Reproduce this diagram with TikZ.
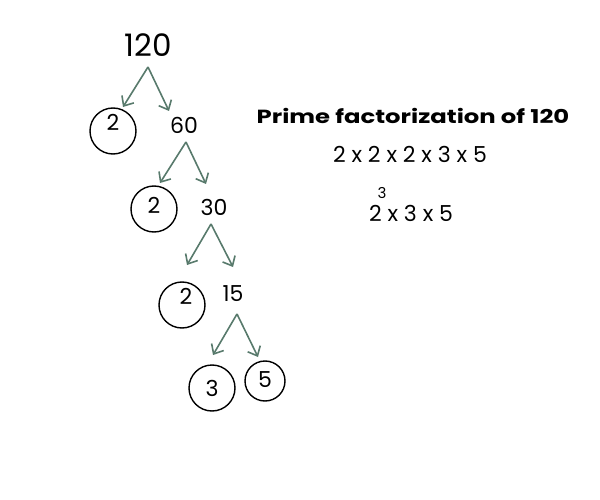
\documentclass[tikz,border=0pt]{standalone}
\usepackage{fontspec}
\setmainfont{Poppins}
\usetikzlibrary{arrows.meta}
\definecolor{arr}{RGB}{88,122,108}
\tikzset{
  num/.style={inner sep=0pt, font=\fontsize{22}{24}\selectfont},
  ring/.style={circle, draw=black, line width=1.4pt, minimum size=46pt, inner sep=0pt},
  arrowline/.style={draw=arr, line width=1.6pt, -{Straight Barb[length=8pt,width=14pt,line width=1.6pt]}},
}
\begin{document}
\begin{tikzpicture}[x=1pt,y=-1pt]
\useasboundingbox (0,0) rectangle (600,500);
% tree
\node[num, font=\fontsize{31}{33}\selectfont] (n120) at (148,45) {120};
\node[ring] (c1) at (113,131) {};
\node[num] (t1) at (113,122) {2};
\node[num] (n60) at (184,125) {60};
\node[ring] (c2) at (154,209) {};
\node[num] (t2) at (154,205) {2};
\node[num] (n30) at (214,207) {30};
\node[ring] (c3) at (182,305) {};
\node[num] (t3) at (186,296) {2};
\node[num] (n15) at (233,294) {15};
\node[ring] (c4) at (212,388) {};
\node[num] (t4) at (212,388) {3};
\node[ring, minimum size=40pt] (c5) at (265,381) {};
\node[num] (t5) at (265,380) {5};
% arrow coordinates
\coordinate (a1) at (148,67);
\coordinate (l1) at (123,107);
\coordinate (r1) at (169,111);
\coordinate (a2) at (186,142);
\coordinate (l2) at (160,183);
\coordinate (r2) at (206,184);
\coordinate (a3) at (211,224);
\coordinate (l3) at (187,265);
\coordinate (r3) at (233,267);
\coordinate (a4) at (237,314);
\coordinate (l4) at (213,355);
\coordinate (r4) at (258,357);
\foreach \i in {1,2,3,4}{
  \draw[arrowline] (a\i) -- (l\i);
  \draw[arrowline] (a\i) -- (r\i);
}
% right side text
\node[inner sep=0pt, font=\fontsize{19}{21}\selectfont\bfseries] (title) at (413,116) {\scalebox{1.28}[1]{Prime factorization of 120}};
\node[num, font=\fontsize{22}{24}\selectfont] (prod) at (410,154) {2 x 2 x 2 x 3 x 5};
\node[num, font=\fontsize{22}{24}\selectfont] (pow) at (411,213) {2\ x 3 x 5};
\node[inner sep=0pt, font=\fontsize{15}{16}\selectfont] (sup) at (382,193) {3};
\end{tikzpicture}
\end{document}
